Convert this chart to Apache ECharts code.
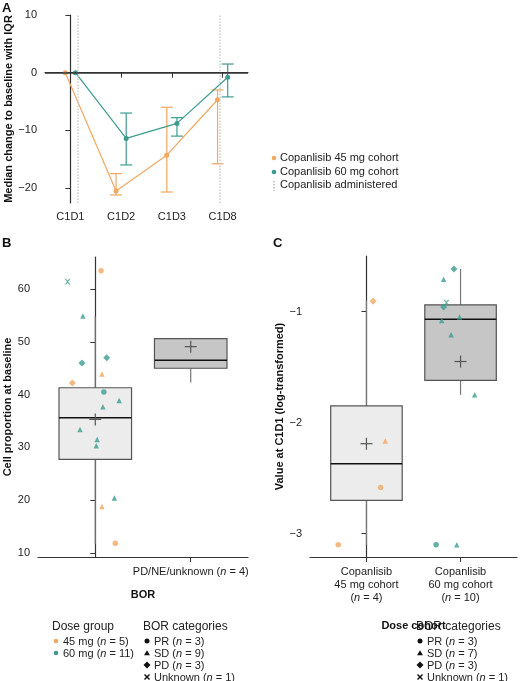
<!DOCTYPE html>
<html><head><meta charset="utf-8">
<script src="https://cdn.jsdelivr.net/npm/echarts@6/dist/echarts.min.js"></script>
<style>html,body{margin:0;padding:0;background:#fff}#c{width:520px;height:681px}</style>
</head><body><div id="c"></div>
<script>
var OR='#f0a862', TE='#3d9c90';
// Panel A
var aCats=['C1D1','C1D2','C1D3','C1D8'];
var a45Med=[0,-20.5,-14.3,-4.7], a45Lo=[0,-21.2,-20.7,-15.8], a45Hi=[0,-17.5,-6,-3];
var a60Med=[0,-11.4,-8.8,-0.8], a60Lo=[0,-16,-11,-4.2], a60Hi=[0,-7,-7.8,1.5];
// Panel B
var bCats=['CR/PR/SD (n = 12)','PD/NE/unknown (n = 4)'];
var bBox=[[27.7,35.6,41.3,11.7,54.8,35.3],[45,46.5,50.6,42.3,50.6,49.1]];
var bX=[0.06,-0.13,0.07,0.09,0.25,0.08,-0.16,0.02,0.01,0.2,0.07,0.21, -0.29,-0.14,0.12,-0.24];
var bY=[63.5,54.9,43.9,40.5,38.9,37.7,33.4,31.5,30.3,20.4,18.8,11.8, 61.4,46,47,42.2];
var bDose=['45','60','45','60','60','60','60','60','60','60','45','45','60','60','60','45'];
var bBor=['PR','SD','SD','PR','SD','SD','SD','SD','SD','SD','SD','PR','Unknown','PD','PD','PD'];
// Panel C
var cCats=['Copanlisib\n45 mg cohort\n(n = 4)','Copanlisib\n60 mg cohort\n(n = 10)'];
var cBox=[[-2.7,-2.37,-1.85,-3.1,-0.9,-2.19],[-1.62,-1.07,-0.94,-1.75,-0.617,-1.45]];
var cX=[0.07,0.2,0.15,-0.3, 0.93,0.82,0.85,0.82,0.8,0.99,0.9,1.15,0.74,0.96];
var cY=[-0.907,-2.166,-2.585,-3.1, -0.617,-0.71,-0.92,-0.96,-1.08,-1.05,-1.21,-1.75,-3.1,-3.1];
var cDose=['45','45','45','45','60','60','60','60','60','60','60','60','60','60'];
var cBor=['PD','SD','PR','PR','PD','SD','Unknown','PD','SD','SD','SD','SD','PR','SD'];

var XPATH='path://M0,0L2,0L5,3L8,0L10,0L6,5L10,10L8,10L5,7L2,10L0,10L4,5Z';
var SYM={PR:'circle',SD:'triangle',PD:'diamond',Unknown:XPATH};
function pts(xs,ys,d,b){return xs.map(function(x,i){return {value:[x,ys[i]],symbol:SYM[b[i]],symbolSize:b[i]==='PD'?7:(b[i]==='Unknown'?6:5.5),itemStyle:{color:d[i]==='45'?OR:TE}};});}
function boxData(bx){return bx.map(function(r,i){return [i].concat(r);});}
function boxRender(params,api){
  var x=api.value(0),q1=api.value(1),md=api.value(2),q3=api.value(3),lo=api.value(4),hi=api.value(5),mn=api.value(6);
  var fill=params.dataIndex===0?'#ececec':'#c6c6c6';
  var w=0.38;
  var c=function(a,b){return api.coord([a,b]);};
  var pL=c(x-w,q3),pR=c(x+w,q1);
  var m=c(x,mn);
  var st={stroke:'#555',lineWidth:1.2};
  return {type:'group',children:[
    {type:'line',shape:{x1:c(x,lo)[0],y1:c(x,lo)[1],x2:c(x,q1)[0],y2:c(x,q1)[1]},style:{stroke:'#777',lineWidth:1.2}},
    {type:'line',shape:{x1:c(x,q3)[0],y1:c(x,q3)[1],x2:c(x,hi)[0],y2:c(x,hi)[1]},style:{stroke:'#777',lineWidth:1.2}},
    {type:'rect',shape:{x:pL[0],y:pL[1],width:pR[0]-pL[0],height:pR[1]-pL[1]},style:{fill:fill,stroke:'#555',lineWidth:1.2}},
    {type:'line',shape:{x1:pL[0],y1:c(x,md)[1],x2:pR[0],y2:c(x,md)[1]},style:{stroke:'#111',lineWidth:1.5}},
    {type:'line',shape:{x1:m[0]-6,y1:m[1],x2:m[0]+6,y2:m[1]},style:st},
    {type:'line',shape:{x1:m[0],y1:m[1]-6,x2:m[0],y2:m[1]+6},style:st}
  ]};
}
function errRender(off,col){return function(params,api){
  var x=api.value(0)+off,lo=api.value(1),hi=api.value(2);
  var a=api.coord([x,lo]),b=api.coord([x,hi]);
  return {type:'group',children:[
    {type:'line',shape:{x1:a[0],y1:a[1],x2:b[0],y2:b[1]},style:{stroke:col,lineWidth:1.2}},
    {type:'line',shape:{x1:a[0]-6,y1:a[1],x2:a[0]+6,y2:a[1]},style:{stroke:col,lineWidth:1.2}},
    {type:'line',shape:{x1:b[0]-6,y1:b[1],x2:b[0]+6,y2:b[1]},style:{stroke:col,lineWidth:1.2}}
  ]};
};}
var F='Liberation Sans, Arial, sans-serif';
var axL={color:'#222',fontSize:11,fontFamily:F};
var axLine={lineStyle:{color:'#333',width:1.2}};
var nameS={fontWeight:'bold',fontSize:11,color:'#111',fontFamily:F};
var rich={i:{fontStyle:'italic',fontSize:11,color:'#222',fontFamily:F,lineHeight:13},t:{fontSize:11,color:'#222',fontFamily:F,lineHeight:13}};
function nfmt2(s){var m=s.match(/^(.*)\(n = (\d+)\)$/);return '{t|'+m[1]+'(}{i|n}{t| = '+m[2]+')}';}
function nfmt3(s){var L=s.split('\n');var m=L[2].match(/\(n = (\d+)\)/);return '{t|'+L[0]+'}\n{t|'+L[1]+'}\n{t|(}{i|n}{t| = '+m[1]+')}';}

var aIdx=[0,1,2,3];
var option={
  animation:false,
  grid:[{left:45,top:15,width:203,height:188},{left:38,top:257,width:210,height:300},{left:310,top:256,width:207,height:301}],
  xAxis:[
    {gridIndex:0,type:'value',min:-0.5,max:3.5,splitLine:{show:false},axisLine:axLine,
     axisTick:{lineStyle:{color:'#333'},length:5,customValues:aIdx},axisLabel:Object.assign({customValues:aIdx,margin:8,formatter:function(v){return aCats[Math.round(v)];}},axL)},
    {gridIndex:1,type:'value',min:-0.6,max:1.6,splitLine:{show:false},axisLine:axLine,name:'BOR',nameLocation:'middle',nameGap:32,nameTextStyle:nameS,
     axisTick:{lineStyle:{color:'#333'},length:5,customValues:[0,1]},axisLabel:{customValues:[0,1],margin:8,formatter:function(v){return nfmt2(bCats[Math.round(v)]);},rich:rich}},
    {gridIndex:2,type:'value',min:-0.6,max:1.6,splitLine:{show:false},axisLine:axLine,name:'Dose cohort',nameLocation:'middle',nameGap:63,nameTextStyle:nameS,
     axisTick:{lineStyle:{color:'#333'},length:5,customValues:[0,1]},axisLabel:{customValues:[0,1],margin:8,formatter:function(v){return nfmt3(cCats[Math.round(v)]);},rich:rich}}
  ],
  yAxis:[
    {gridIndex:0,type:'value',min:-22.6,max:10,splitLine:{show:false},axisLine:{show:true,lineStyle:{color:'#333',width:1.2}},axisTick:{show:true,lineStyle:{color:'#333'},length:5,customValues:[-20,-10,0,10]},
     axisLabel:Object.assign({customValues:[-20,-10,0,10],formatter:function(v){return v<0?'\u2212'+(-v):v;}},axL),
     name:'Median change to baseline with IQR',nameLocation:'middle',nameGap:31,nameTextStyle:nameS},
    {gridIndex:1,type:'value',min:9.2,max:66.1,splitLine:{show:false},axisLine:{show:true,lineStyle:{color:'#333',width:1.2}},axisTick:{show:true,lineStyle:{color:'#333'},length:5,customValues:[10,20,30,40,50,60]},
     axisLabel:Object.assign({customValues:[10,20,30,40,50,60]},axL),
     name:'Cell proportion at baseline',nameLocation:'middle',nameGap:25,nameTextStyle:nameS},
    {gridIndex:2,type:'value',min:-3.21,max:-0.5,splitLine:{show:false},axisLine:{show:true,lineStyle:{color:'#333',width:1.2}},axisTick:{show:true,lineStyle:{color:'#333'},length:5,customValues:[-3,-2,-1]},
     axisLabel:Object.assign({customValues:[-3,-2,-1],formatter:function(v){return '\u2212'+(-v);}},axL),
     name:'Value at C1D1 (log-transformed)',nameLocation:'middle',nameGap:25,nameTextStyle:nameS}
  ],
  series:[
    {type:'line',xAxisIndex:0,yAxisIndex:0,data:[],silent:true,
     markLine:{symbol:'none',silent:true,label:{show:false},data:[
       {xAxis:0.15,lineStyle:{color:'#ccc',type:'dotted',width:1.5}},
       {xAxis:2.95,lineStyle:{color:'#ccc',type:'dotted',width:1.5}},
       {yAxis:0,lineStyle:{color:'#333',type:'solid',width:1.5}}]}},
    {type:'custom',xAxisIndex:0,yAxisIndex:0,renderItem:errRender(-0.1,OR),data:aIdx.slice(1).map(function(i){return [i,a45Lo[i],a45Hi[i]];}),z:3},
    {type:'custom',xAxisIndex:0,yAxisIndex:0,renderItem:errRender(0.1,TE),data:aIdx.slice(1).map(function(i){return [i,a60Lo[i],a60Hi[i]];}),z:3},
    {type:'line',xAxisIndex:0,yAxisIndex:0,data:aIdx.map(function(i){return [i-0.1,a45Med[i]];}),symbol:'circle',symbolSize:5,lineStyle:{color:OR,width:1.2},itemStyle:{color:OR},z:4},
    {type:'line',xAxisIndex:0,yAxisIndex:0,data:aIdx.map(function(i){return [i+0.1,a60Med[i]];}),symbol:'circle',symbolSize:5,lineStyle:{color:TE,width:1.2},itemStyle:{color:TE},z:4},
    {type:'custom',xAxisIndex:1,yAxisIndex:1,renderItem:boxRender,data:boxData(bBox),z:2},
    {type:'scatter',xAxisIndex:1,yAxisIndex:1,data:pts(bX,bY,bDose,bBor),z:5},
    {type:'custom',xAxisIndex:2,yAxisIndex:2,renderItem:boxRender,data:boxData(cBox),z:2},
    {type:'scatter',xAxisIndex:2,yAxisIndex:2,data:pts(cX,cY,cDose,cBor),z:5}
  ],
  graphic:[]
};
var G=option.graphic;
function txt(x,y,s,o){G.push({type:'text',x:x,y:y,style:Object.assign({text:s,fontSize:11,fill:'#222',fontFamily:F,rich:rich},o||{})});}
txt(2,2,'A',{fontSize:13,fontWeight:'bold',fill:'#111'});
txt(2,237,'B',{fontSize:13,fontWeight:'bold',fill:'#111'});
txt(273,237,'C',{fontSize:13,fontWeight:'bold',fill:'#111'});
// legend A
G.push({type:'circle',shape:{cx:274,cy:158,r:2.3},style:{fill:OR}});
G.push({type:'circle',shape:{cx:274,cy:172,r:2.3},style:{fill:TE}});
G.push({type:'line',shape:{x1:274,y1:181,x2:274,y2:191},style:{stroke:'#bbb',lineDash:[1.5,1.5],lineWidth:1.5}});
txt(280,152,'Copanlisib 45 mg cohort');
txt(280,166,'Copanlisib 60 mg cohort');
txt(280,179,'Copanlisib administered');
// legend B
txt(52,621,'Dose group',{fontSize:12});
G.push({type:'circle',shape:{cx:56,cy:641,r:2.3},style:{fill:OR}});
G.push({type:'circle',shape:{cx:56,cy:653,r:2.3},style:{fill:TE}});
txt(63,635,'{t|45 mg (}{i|n}{t| = 5)}');
txt(63,647,'{t|60 mg (}{i|n}{t| = 11)}');
function borLeg(x,counts){
  txt(x,621,'BOR categories',{fontSize:12});
  var names=['PR','SD','PD','Unknown'];
  names.forEach(function(n,i){
    var y=641+i*12, cx=x+4;
    if(n==='PR') G.push({type:'circle',shape:{cx:cx,cy:y,r:2.5},style:{fill:'#111'}});
    else if(n==='SD') G.push({type:'polygon',shape:{points:[[cx,y-2.8],[cx+3,y+2.2],[cx-3,y+2.2]]},style:{fill:'#111'}});
    else if(n==='PD') G.push({type:'polygon',shape:{points:[[cx,y-3.5],[cx+3.5,y],[cx,y+3.5],[cx-3.5,y]]},style:{fill:'#111'}});
    else { G.push({type:'line',shape:{x1:cx-2.5,y1:y-2.5,x2:cx+2.5,y2:y+2.5},style:{stroke:'#111',lineWidth:1.4}});
           G.push({type:'line',shape:{x1:cx-2.5,y1:y+2.5,x2:cx+2.5,y2:y-2.5},style:{stroke:'#111',lineWidth:1.4}}); }
    txt(x+11,y-6,'{t|'+n+' (}{i|n}{t| = '+counts[i]+')}');
  });
}
borLeg(143,[3,9,3,1]);
borLeg(416,[3,7,3,1]);
echarts.init(document.getElementById('c')).setOption(option);
</script></body></html>
